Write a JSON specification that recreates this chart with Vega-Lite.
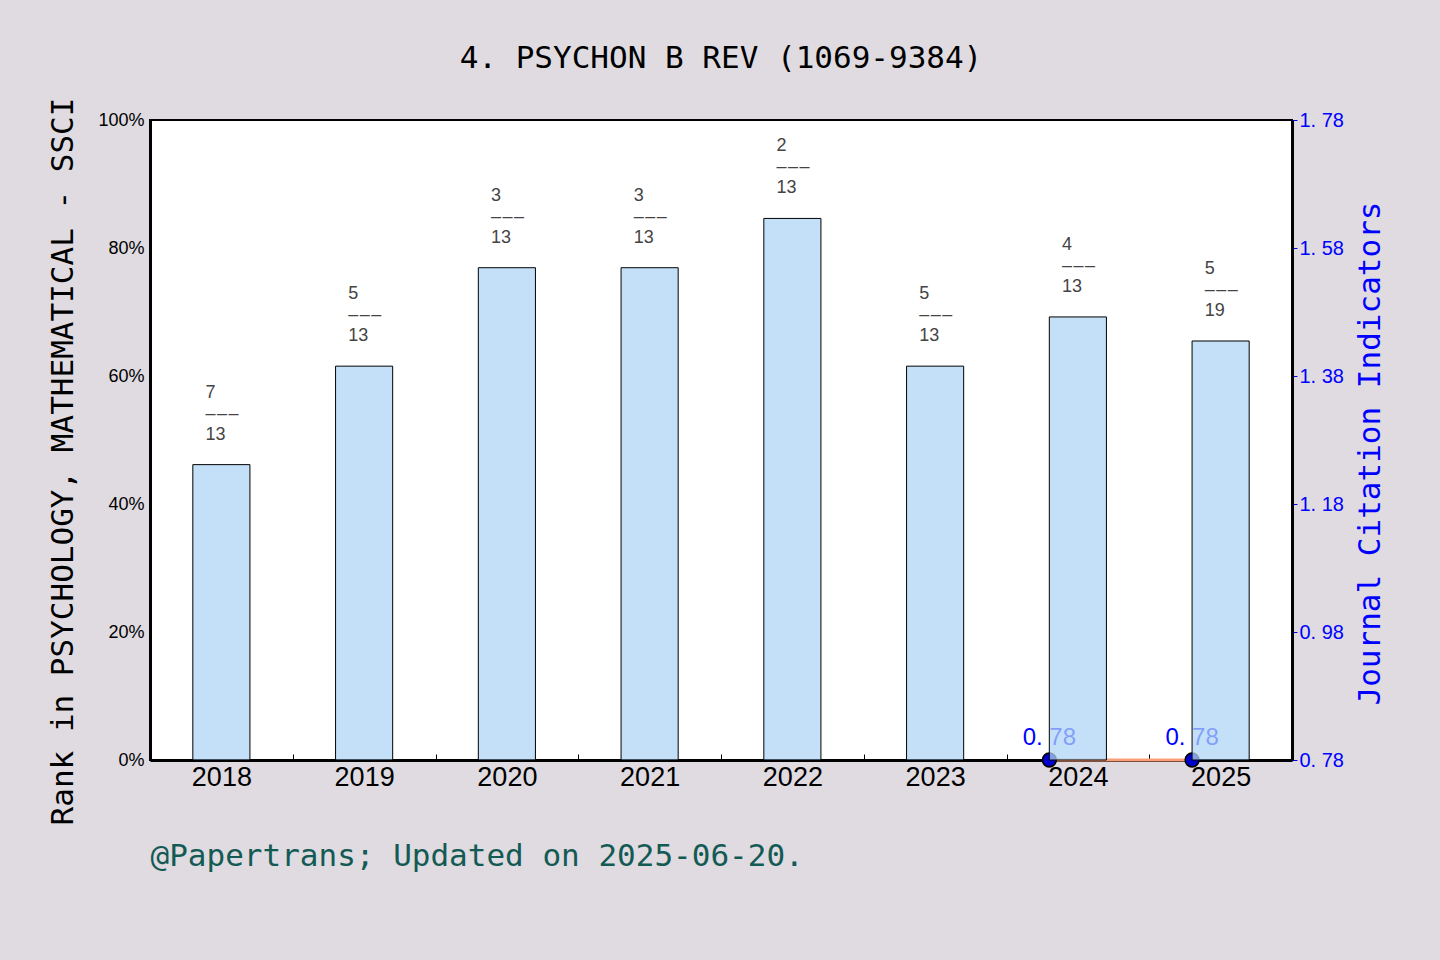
{
  "$schema": "https://vega.github.io/schema/vega-lite/v6.json",
  "width": 1142,
  "height": 640,
  "autosize": "none",
  "padding": {"left": 150, "top": 120, "right": 148, "bottom": 200},
  "background": "#dfdbe0",
  "title": {
    "text": "4. PSYCHON B REV (1069-9384)",
    "font": "DejaVu Sans Mono",
    "fontSize": 31,
    "fontWeight": "normal",
    "color": "black",
    "offset": 22
  },
  "datasets": {
    "ranks": [
      {"year": "2018", "pct": 0.4615, "frac": "7\n\u2013\u200a\u2013\u200a\u2013\n13"},
      {"year": "2019", "pct": 0.6154, "frac": "5\n\u2013\u200a\u2013\u200a\u2013\n13"},
      {"year": "2020", "pct": 0.7692, "frac": "3\n\u2013\u200a\u2013\u200a\u2013\n13"},
      {"year": "2021", "pct": 0.7692, "frac": "3\n\u2013\u200a\u2013\u200a\u2013\n13"},
      {"year": "2022", "pct": 0.8462, "frac": "2\n\u2013\u200a\u2013\u200a\u2013\n13"},
      {"year": "2023", "pct": 0.6154, "frac": "5\n\u2013\u200a\u2013\u200a\u2013\n13"},
      {"year": "2024", "pct": 0.6923, "frac": "4\n\u2013\u200a\u2013\u200a\u2013\n13"},
      {"year": "2025", "pct": 0.6547, "frac": "5\n\u2013\u200a\u2013\u200a\u2013\n19"}
    ],
    "jci": [
      {"year": "2024", "jci": 0.78, "label": "0. 78"},
      {"year": "2025", "jci": 0.78, "label": "0. 78"}
    ]
  },
  "layer": [
    {
      "data": {"name": "jci"},
      "encoding": {
        "x": {
          "field": "year", "type": "ordinal", "bandPosition": 0.3,
          "scale": {"domain": ["2018","2019","2020","2021","2022","2023","2024","2025"], "paddingInner": 0, "paddingOuter": 0},
          "title": "@Papertrans; Updated on 2025-06-20."
        },
        "y": {
          "field": "jci", "type": "quantitative",
          "scale": {"domain": [0.78, 1.78], "nice": false, "zero": false},
          "axis": {
            "orient": "right",
            "values": [0.78, 0.98, 1.18, 1.38, 1.58, 1.78],
            "labelExpr": "replace(format(datum.value, '.2f'), '.', '. ')",
            "labelFont": "Liberation Sans",
            "labelFontSize": 20,
            "labelColor": "blue",
            "labelPadding": 2,
            "tickColor": "blue",
            "tickSize": 5,
            "grid": false,
            "domainColor": "black",
            "domainWidth": 3,
            "title": "Journal Citation Indicators",
            "titleFont": "DejaVu Sans Mono",
            "titleFontSize": 31,
            "titleFontWeight": "normal",
            "titleColor": "blue",
            "titleAngle": 270,
            "titleBaseline": "top",
            "titlePadding": 12,
            "titleY": 333
          }
        }
      },
      "layer": [
        {"mark": {"type": "line", "color": "#fa9e78", "strokeWidth": 3}},
        {"mark": {"type": "point", "filled": true, "fill": "#0000cc", "stroke": "black", "strokeWidth": 1.5, "size": 190, "opacity": 1}},
        {
          "mark": {"type": "text", "font": "Liberation Sans", "fontSize": 24, "color": "blue", "align": "center", "baseline": "alphabetic", "dy": -15},
          "encoding": {"text": {"field": "label"}}
        }
      ]
    },
    {
      "data": {"name": "ranks"},
      "encoding": {
        "x": {"field": "year", "type": "ordinal", "title": "@Papertrans; Updated on 2025-06-20."},
        "y": {
          "field": "pct", "type": "quantitative",
          "scale": {"domain": [0, 1], "nice": false},
          "axis": {
            "orient": "left",
            "values": [0, 0.2, 0.4, 0.6, 0.8, 1],
            "format": ".0%",
            "labelFont": "Liberation Sans",
            "labelFontSize": 18,
            "labelColor": "black",
            "labelPadding": 6,
            "ticks": false,
            "grid": false,
            "domainColor": "black",
            "domainWidth": 3,
            "title": "Rank in PSYCHOLOGY, MATHEMATICAL - SSCI",
            "titleFont": "DejaVu Sans Mono",
            "titleFontSize": 31,
            "titleFontWeight": "normal",
            "titleColor": "black",
            "titlePadding": 18,
            "titleY": 341
          }
        }
      },
      "layer": [
        {
          "mark": {"type": "bar", "width": {"band": 0.4}, "fill": "#b0d5f7", "fillOpacity": 0.74, "stroke": "black", "strokeWidth": 1}
        },
        {
          "mark": {"type": "text", "font": "Liberation Sans", "fontSize": 18, "color": "#444444", "align": "left", "baseline": "bottom", "dx": -16, "dy": -63, "lineBreak": "\n", "lineHeight": 21},
          "encoding": {"text": {"field": "frac"}}
        }
      ]
    }
  ],
  "resolve": {"scale": {"y": "independent"}},
  "config": {
    "view": {"stroke": "black", "strokeWidth": 2, "fill": "white"},
    "axisX": {
      "labelAngle": 0,
      "labelFont": "Liberation Sans",
      "labelFontSize": 27,
      "labelColor": "black",
      "labelPadding": 10,
      "tickBand": "extent",
      "tickSize": -6,
      "tickColor": "black",
      "domainColor": "black",
      "domainWidth": 3,
      "grid": false,
      "titleFont": "DejaVu Sans Mono",
      "titleFontSize": 31,
      "titleFontWeight": "normal",
      "titleColor": "#135a55",
      "titleAnchor": "start",
      "titleAlign": "left",
      "titlePadding": 51
    }
  }
}
